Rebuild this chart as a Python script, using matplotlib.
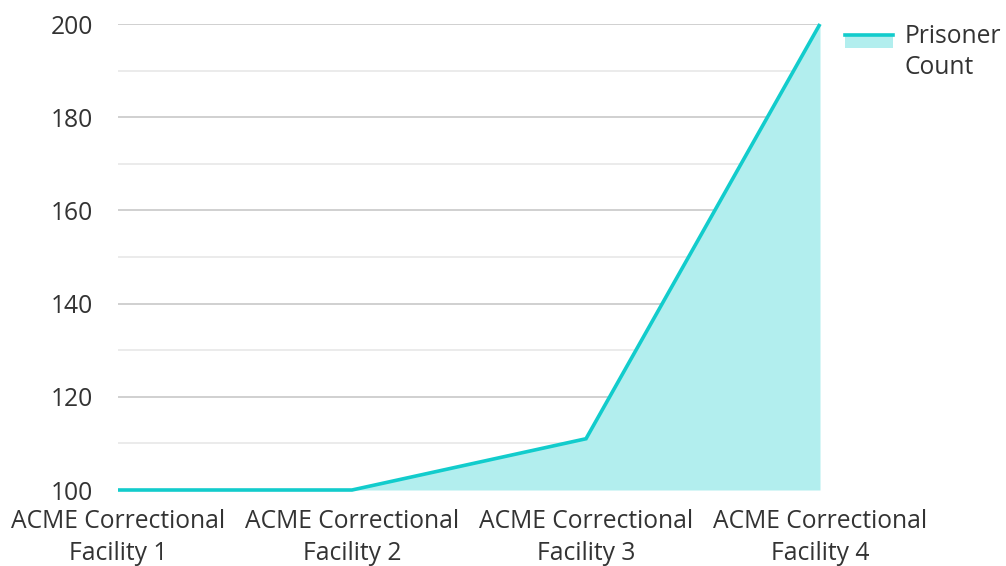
import matplotlib
matplotlib.use("Agg")
import matplotlib.pyplot as plt
from matplotlib.lines import Line2D
from matplotlib.patches import Rectangle

plt.rcParams['font.family'] = ['Open Sans', 'DejaVu Sans']

facilities = ["ACME Correctional\nFacility 1", "ACME Correctional\nFacility 2",
              "ACME Correctional\nFacility 3", "ACME Correctional\nFacility 4"]
prisoner_count = [100, 100, 111, 200]
series_name = "Prisoner\nCount"

line_color = "#12CCCC"
fill_color = "#B2EEEE"
text_color = "#333333"
fs = 17.7

fig = plt.figure(figsize=(10.06, 5.66), dpi=100)
ax = fig.add_axes([118 / 1006, 1 - 490 / 566, (820 - 118) / 1006, (490 - 24) / 566])

x = list(range(len(facilities)))
ax.fill_between(x, prisoner_count, 100, color=fill_color, linewidth=0, zorder=2)
ax.plot(x, prisoner_count, color=line_color, linewidth=2.6, zorder=3,
        solid_capstyle='butt', solid_joinstyle='miter', clip_on=False)

ax.set_xlim(0, len(facilities) - 1)
ax.set_ylim(100, 200)
ax.set_yticks(range(100, 201, 20))
ax.set_yticks(range(110, 200, 20), minor=True)
ax.grid(axis='y', which='major', color='#c8c8c8', linewidth=1.2, zorder=1)
ax.grid(axis='y', which='minor', color='#e8e8e8', linewidth=1.2, zorder=1)
ax.set_xticks(x)
ax.set_xticklabels(facilities, fontsize=fs, color=text_color, linespacing=1.32)
ax.tick_params(axis='both', which='both', length=0, labelsize=fs, labelcolor=text_color)
ax.tick_params(axis='y', pad=18)
ax.tick_params(axis='x', pad=14)
for s in ax.spines.values():
    s.set_visible(False)

# legend key: filled swatch with the line on its top edge
fig.add_artist(Rectangle((845 / 1006, 1 - 48 / 566), 48 / 1006, 12 / 566,
                         transform=fig.transFigure, color=fill_color, linewidth=0))
fig.add_artist(Line2D([845 / 1006, 893 / 1006], [1 - 35 / 566, 1 - 35 / 566],
                      transform=fig.transFigure, color=line_color, linewidth=2.6))
fig.text(905 / 1006, 1 - 24 / 566, series_name, fontsize=fs, color=text_color,
         va='top', ha='left', linespacing=1.32)

fig.savefig("out.png", dpi=100)
